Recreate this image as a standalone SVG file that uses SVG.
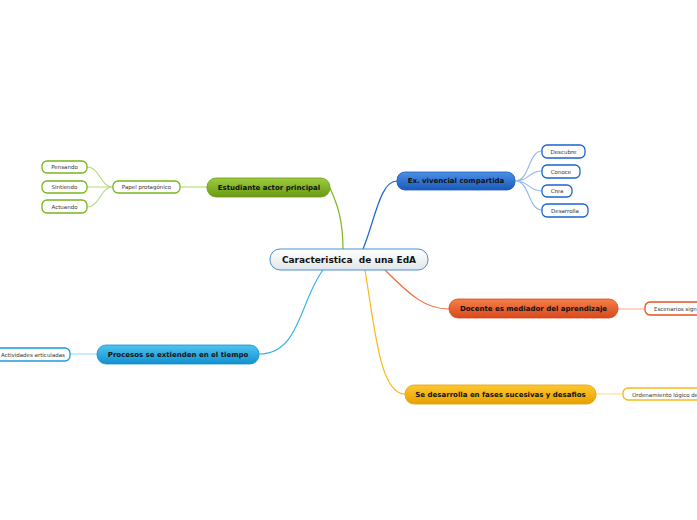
<svg xmlns="http://www.w3.org/2000/svg" width="697" height="520" viewBox="0 0 697 520">
<defs>
<linearGradient id="gC" x1="0" y1="0" x2="0" y2="1"><stop offset="0" stop-color="#ffffff"/><stop offset="1" stop-color="#e2e6ea"/></linearGradient>
<linearGradient id="gG" x1="0" y1="0" x2="0" y2="1"><stop offset="0" stop-color="#9ccc3c"/><stop offset="1" stop-color="#6a9a14"/></linearGradient>
<linearGradient id="gB" x1="0" y1="0" x2="0" y2="1"><stop offset="0" stop-color="#4a90e8"/><stop offset="1" stop-color="#1a5ab8"/></linearGradient>
<linearGradient id="gO" x1="0" y1="0" x2="0" y2="1"><stop offset="0" stop-color="#f4804a"/><stop offset="1" stop-color="#d8481c"/></linearGradient>
<linearGradient id="gY" x1="0" y1="0" x2="0" y2="1"><stop offset="0" stop-color="#fcc830"/><stop offset="1" stop-color="#e8a000"/></linearGradient>
<linearGradient id="gS" x1="0" y1="0" x2="0" y2="1"><stop offset="0" stop-color="#4ec4f0"/><stop offset="1" stop-color="#1290d0"/></linearGradient>
</defs>
<style>
text{font-family:Verdana,"DejaVu Sans",sans-serif;text-anchor:middle;dominant-baseline:central}
.main{font-size:7px;font-weight:bold;fill:#111}
.sub{font-size:5.5px;fill:#333}
.leaf{fill:#fff;stroke-width:1.3}
.c{fill:none;stroke-width:1.2}
</style>
<g id="connectors">
<path class="c" stroke="#7ab51d" d="M343,249 C343,215 335,200 330,188"/>
<path class="c" stroke="#1a64d0" d="M363,249 C375,220 380,181 397,181"/>
<path class="c" stroke="#f06a3a" d="M385,270 C410,295 425,309 449,309"/>
<path class="c" stroke="#f8b818" d="M365,270 C375,330 380,394 405,394"/>
<path class="c" stroke="#30b0e8" d="M323,270 C300,300 300,354 259,354"/>
<path class="c" stroke="#b8dc80" stroke-width="0.8" d="M207,187 L180,187"/>
<path class="c" stroke="#b8dc80" stroke-width="0.8" d="M113,187 C100,187 100,167 87,167 M113,187 L87,187 M113,187 C100,187 100,207 87,207"/>
<path class="c" stroke="#90b8f0" stroke-width="0.8" d="M515,181 C530,181 528,151 542,151 M515,181 C530,181 528,171 542,171 M515,181 C530,181 528,191 542,191 M515,181 C530,181 528,210 542,210"/>
<path class="c" stroke="#f8b8a0" stroke-width="0.8" d="M618,309 L645,309"/>
<path class="c" stroke="#fce0a0" stroke-width="0.8" d="M596,394 L623,394"/>
<path class="c" stroke="#a8dcf4" stroke-width="0.8" d="M97,354 L70,354"/>
</g>
<g id="central"><rect x="270" y="249" width="158" height="21" rx="10" fill="url(#gC)" stroke="#4a90d0" stroke-width="1"/><text x="349" y="260" class="main" style="font-size:9px;white-space:pre">Caracteristica  de una EdA</text></g>
<g id="estudiante"><rect x="207" y="178" width="123" height="19" rx="9" fill="url(#gG)" stroke="#6a9a14" stroke-width="0.8"/><text x="269" y="188" class="main">Estudiante actor principal</text></g>
<g id="papel"><rect x="113" y="181" width="67" height="12" rx="5" class="leaf" stroke="#7ab51d"/><text x="146.5" y="187" class="sub">Papel protagónico</text></g>
<g id="pensando"><rect x="42" y="161" width="45" height="12" rx="5" class="leaf" stroke="#7ab51d"/><text x="64.5" y="167" class="sub">Pensando</text></g>
<g id="sintiendo"><rect x="42" y="181" width="45" height="12" rx="5" class="leaf" stroke="#7ab51d"/><text x="64.5" y="187" class="sub">Sintiendo</text></g>
<g id="actuando"><rect x="42" y="200" width="45" height="13" rx="5" class="leaf" stroke="#7ab51d"/><text x="64.5" y="207" class="sub">Actuando</text></g>
<g id="vivencial"><rect x="397" y="172" width="118" height="18" rx="8" fill="url(#gB)" stroke="#1a5ab8" stroke-width="0.8"/><text x="456" y="181" class="main">Ex. vivencial compartida</text></g>
<g id="descubre"><rect x="542" y="145" width="43" height="13" rx="5" class="leaf" stroke="#1a64d0"/><text x="563.5" y="151.5" class="sub">Descubre</text></g>
<g id="conoce"><rect x="542" y="165" width="38" height="13" rx="5" class="leaf" stroke="#1a64d0"/><text x="561" y="171.5" class="sub">Conoce</text></g>
<g id="crea"><rect x="542" y="185" width="30" height="12" rx="5" class="leaf" stroke="#1a64d0"/><text x="557" y="191" class="sub">Crea</text></g>
<g id="desarrolla"><rect x="542" y="204" width="46" height="13" rx="5" class="leaf" stroke="#1a64d0"/><text x="565" y="210.5" class="sub">Desarrolla</text></g>
<g id="docente"><rect x="449" y="299" width="169" height="19" rx="9" fill="url(#gO)" stroke="#d8481c" stroke-width="0.8"/><text x="533.5" y="309" class="main">Docente es mediador del aprendizaje</text></g>
<g id="escenarios"><rect x="645" y="302" width="70" height="13" rx="5" class="leaf" stroke="#e85020"/><text x="654" y="308.5" class="sub" style="text-anchor:start">Escenarios sign</text></g>
<g id="fases"><rect x="405" y="385" width="191" height="19" rx="9" fill="url(#gY)" stroke="#e8a000" stroke-width="0.8"/><text x="500.5" y="395" class="main">Se desarrolla en fases sucesivas y desafios</text></g>
<g id="ordenamiento"><rect x="623" y="388" width="90" height="12" rx="5" class="leaf" stroke="#f8b818"/><text x="632" y="394.5" class="sub" style="text-anchor:start">Ordenamiento lógico de</text></g>
<g id="procesos"><rect x="97" y="345" width="162" height="19" rx="9" fill="url(#gS)" stroke="#1290d0" stroke-width="0.8"/><text x="178" y="355" class="main">Procesos se extienden en el tiempo</text></g>
<g id="actividades"><rect x="-10" y="348" width="80" height="13" rx="5" class="leaf" stroke="#1a9ae0"/><text x="65" y="354.5" class="sub" style="text-anchor:end">Actividades articuladas</text></g>
</svg>
